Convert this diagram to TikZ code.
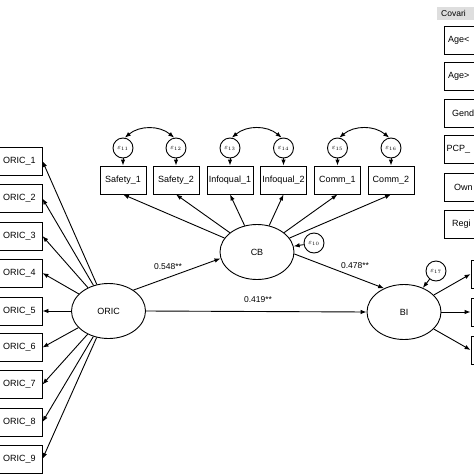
\documentclass[tikz,border=0pt]{standalone}
\usepackage{fontspec}
\setmainfont{Liberation Sans}
\usetikzlibrary{shapes.geometric,arrows.meta}

\tikzset{
  ind/.style={draw, line width=0.9pt, minimum width=46pt, minimum height=28pt, inner sep=0pt, font=\fontsize{9}{10}\selectfont},
  lat/.style={draw, ellipse, line width=0.9pt, minimum width=74pt, minimum height=55pt, inner sep=0pt, font=\fontsize{9}{10}\selectfont},
  err/.style={draw, circle, line width=0.9pt, minimum size=20pt, inner sep=0pt, font=\fontsize{7.5}{8}\selectfont},
  pth/.style={line width=0.9pt, -{Latex[length=6pt,width=4.5pt]}},
  covarc/.style={line width=0.9pt, {Latex[length=6pt,width=4.5pt]}-{Latex[length=6pt,width=4.5pt]}},
  coef/.style={inner sep=1pt, font=\fontsize{8.5}{10}\selectfont},
  covhead/.style={fill=black!13, anchor=west, minimum height=13pt, text width=50pt, align=left, inner xsep=4pt, inner ysep=0pt, font=\fontsize{8.5}{10}\selectfont},
  covbox/.style={draw, line width=0.9pt, anchor=west, minimum width=50pt, minimum height=28pt, inner sep=0pt},
  covtxt/.style={anchor=west, inner sep=0pt, font=\fontsize{9}{10}\selectfont},
}

\begin{document}
\begin{tikzpicture}[x=1pt,y=-1pt]

  %--- Cadre (image rognée) ---
  \useasboundingbox (0,0) rectangle (474,474);
  \clip (0,0) rectangle (474,474);

  %--- Variables latentes ---
  \node[lat] (ORIC) at (108.5,311) {ORIC};
  \node[lat] (CB)   at (257,252)   {CB};
  \node[lat] (BI)   at (404,312)   {BI};

  %--- Indicateurs de ORIC ---
  \node[ind, minimum width=45pt] (oric1) at (19.5,161)   {ORIC\_1};
  \node[ind, minimum width=45pt] (oric2) at (19.5,198.5) {ORIC\_2};
  \node[ind, minimum width=45pt] (oric3) at (19.5,236)   {ORIC\_3};
  \node[ind, minimum width=45pt] (oric4) at (19.5,273)   {ORIC\_4};
  \node[ind, minimum width=45pt] (oric5) at (19.5,311)   {ORIC\_5};
  \node[ind, minimum width=45pt] (oric6) at (19.5,347.5) {ORIC\_6};
  \node[ind, minimum width=45pt] (oric7) at (19.5,384.5) {ORIC\_7};
  \node[ind, minimum width=45pt] (oric8) at (19.5,422)   {ORIC\_8};
  \node[ind, minimum width=45pt] (oric9) at (19.5,459)   {ORIC\_9};

  %--- Indicateurs de CB ---
  \node[ind] (saf1) at (123,180)   {Safety\_1};
  \node[ind] (saf2) at (176,180)   {Safety\_2};
  \node[ind] (inf1) at (230,180)   {Infoqual\_1};
  \node[ind] (inf2) at (283.5,180) {Infoqual\_2};
  \node[ind] (com1) at (337.5,180) {Comm\_1};
  \node[ind] (com2) at (391,180)   {Comm\_2};

  %--- Indicateurs de BI (coupés à droite) ---
  \node[ind] (bi1) at (494,274) {};
  \node[ind] (bi2) at (494,312) {};
  \node[ind] (bi3) at (494,350) {};

  %--- Erreurs ---
  \node[err] (e11) at (123,148)   {$\varepsilon_{11}$};
  \node[err] (e12) at (176,148)   {$\varepsilon_{12}$};
  \node[err] (e13) at (230,148)   {$\varepsilon_{13}$};
  \node[err] (e14) at (283.5,148) {$\varepsilon_{14}$};
  \node[err] (e15) at (337.5,148) {$\varepsilon_{15}$};
  \node[err] (e16) at (391,148)   {$\varepsilon_{16}$};
  \node[err] (e10) at (314,243)   {$\varepsilon_{10}$};
  \node[err] (e17) at (436,271)   {$\varepsilon_{17}$};

  %--- Saturations ORIC ---
  \draw[pth] (ORIC) -- (oric1.east);
  \draw[pth] (ORIC) -- (oric2.east);
  \draw[pth] (ORIC) -- (oric3.east);
  \draw[pth] (ORIC) -- (oric4.east);
  \draw[pth] (ORIC) -- (oric5.east);
  \draw[pth] (ORIC) -- (oric6.east);
  \draw[pth] (ORIC) -- (oric7.east);
  \draw[pth] (ORIC) -- (oric8.east);
  \draw[pth] (ORIC) -- (oric9.east);

  %--- Saturations CB ---
  \draw[pth] (CB) -- (saf1.south);
  \draw[pth] (CB) -- (saf2.south);
  \draw[pth] (CB) -- (inf1.south);
  \draw[pth] (CB) -- (inf2.south);
  \draw[pth] (CB) -- (com1.south);
  \draw[pth] (CB) -- (com2.south);

  %--- Saturations BI ---
  \draw[pth] (BI) -- (bi1.west);
  \draw[pth] (BI) -- (bi2.west);
  \draw[pth] (BI) -- (bi3.west);

  %--- Erreurs vers variables ---
  \draw[pth] (e11) -- (saf1);
  \draw[pth] (e12) -- (saf2);
  \draw[pth] (e13) -- (inf1);
  \draw[pth] (e14) -- (inf2);
  \draw[pth] (e15) -- (com1);
  \draw[pth] (e16) -- (com2);
  \draw[pth] (e10) -- (CB);
  \draw[pth] (e17) -- (BI);

  %--- Covariances des erreurs ---
  \draw[covarc] (e11.80) to[bend left=40] (e12.100);
  \draw[covarc] (e13.80) to[bend left=40] (e14.100);
  \draw[covarc] (e15.80) to[bend left=40] (e16.100);

  %--- Chemins structurels ---
  \draw[pth] (ORIC.40) -- (CB.190);
  \draw[pth] (CB.357) -- (BI.130);
  \draw[pth] (ORIC.east) -- (BI.west);

  \node[coef] (c548) at (168,267) {0.548**};
  \node[coef] (c478) at (355,266) {0.478**};
  \node[coef] (c419) at (258,300) {0.419**};

  %--- Covariables (coupées à droite) ---
  \node[covhead] (covs) at (437,13) {Covari};
  \node[covbox] (age1) at (444,40)    {};
  \node[covbox] (age2) at (444,76)    {};
  \node[covbox] (gend) at (444,113)   {};
  \node[covbox] (pcp)  at (444,149.5) {};
  \node[covbox] (own)  at (444,187.5) {};
  \node[covbox] (reg)  at (444,224.5) {};
  \node[covtxt] (tage1) at (448,40)    {Age<};
  \node[covtxt] (tage2) at (448,76)    {Age>};
  \node[covtxt] (tgend) at (452,113)   {Gend};
  \node[covtxt] (tpcp)  at (446.5,149.5) {PCP\_};
  \node[covtxt] (town)  at (454,187.5) {Own};
  \node[covtxt] (treg)  at (452,224.5) {Regi};

\end{tikzpicture}
\end{document}
